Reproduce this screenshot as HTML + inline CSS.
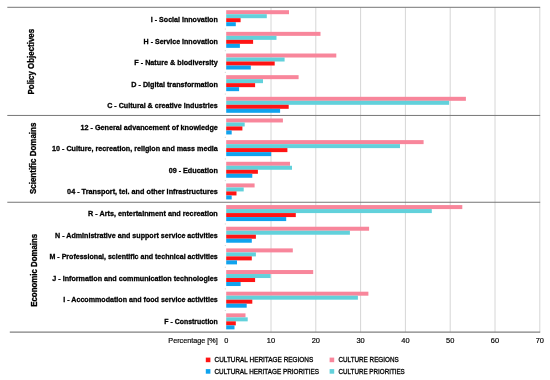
<!DOCTYPE html>
<html lang="en"><head><meta charset="utf-8"><title>Chart</title>
<style>html,body{margin:0;padding:0;background:#fff}svg{display:block}text{font-family:"Liberation Sans",sans-serif;fill:#000;stroke:#000;stroke-width:.3px}.t{stroke-width:.18px}.b{font-weight:700;stroke:#000;stroke-width:.3px}</style></head>
<body>
<svg width="550" height="380" viewBox="0 0 550 380">
<rect width="550" height="380" fill="#fff"/>
<g stroke="#d6d6d6" stroke-width="1">
<line x1="271.0" y1="7.4" x2="271.0" y2="332.2"/>
<line x1="315.8" y1="7.4" x2="315.8" y2="332.2"/>
<line x1="360.6" y1="7.4" x2="360.6" y2="332.2"/>
<line x1="405.4" y1="7.4" x2="405.4" y2="332.2"/>
<line x1="450.2" y1="7.4" x2="450.2" y2="332.2"/>
<line x1="495.0" y1="7.4" x2="495.0" y2="332.2"/>
<line x1="539.8" y1="7.4" x2="539.8" y2="332.2"/>
</g>
<g fill="#cfcfcf">
<rect x="224.8" y="28.55" width="1" height="1"/>
<rect x="224.8" y="50.21" width="1" height="1"/>
<rect x="224.8" y="71.86" width="1" height="1"/>
<rect x="224.8" y="93.51" width="1" height="1"/>
<rect x="224.8" y="136.82" width="1" height="1"/>
<rect x="224.8" y="158.47" width="1" height="1"/>
<rect x="224.8" y="180.13" width="1" height="1"/>
<rect x="224.8" y="223.43" width="1" height="1"/>
<rect x="224.8" y="245.09" width="1" height="1"/>
<rect x="224.8" y="266.74" width="1" height="1"/>
<rect x="224.8" y="288.39" width="1" height="1"/>
<rect x="224.8" y="310.05" width="1" height="1"/>
</g>
<rect x="226.2" y="10.20" width="62.8" height="4.0" fill="#f8869b"/>
<rect x="226.2" y="14.20" width="40.6" height="4.0" fill="#62d1db"/>
<rect x="226.2" y="18.20" width="14.4" height="4.0" fill="#ff1414"/>
<rect x="226.2" y="22.20" width="9.6" height="4.0" fill="#0fa3ee"/>
<rect x="226.2" y="31.85" width="94.3" height="4.0" fill="#f8869b"/>
<rect x="226.2" y="35.85" width="50.3" height="4.0" fill="#62d1db"/>
<rect x="226.2" y="39.85" width="26.9" height="4.0" fill="#ff1414"/>
<rect x="226.2" y="43.85" width="13.7" height="4.0" fill="#0fa3ee"/>
<rect x="226.2" y="53.51" width="110.1" height="4.0" fill="#f8869b"/>
<rect x="226.2" y="57.51" width="58.4" height="4.0" fill="#62d1db"/>
<rect x="226.2" y="61.51" width="48.5" height="4.0" fill="#ff1414"/>
<rect x="226.2" y="65.51" width="24.6" height="4.0" fill="#0fa3ee"/>
<rect x="226.2" y="75.16" width="72.4" height="4.0" fill="#f8869b"/>
<rect x="226.2" y="79.16" width="36.8" height="4.0" fill="#62d1db"/>
<rect x="226.2" y="83.16" width="28.9" height="4.0" fill="#ff1414"/>
<rect x="226.2" y="87.16" width="12.9" height="4.0" fill="#0fa3ee"/>
<rect x="226.2" y="96.81" width="239.7" height="4.0" fill="#f8869b"/>
<rect x="226.2" y="100.81" width="222.9" height="4.0" fill="#62d1db"/>
<rect x="226.2" y="104.81" width="62.5" height="4.0" fill="#ff1414"/>
<rect x="226.2" y="108.81" width="53.9" height="4.0" fill="#0fa3ee"/>
<rect x="226.2" y="118.47" width="56.7" height="4.0" fill="#f8869b"/>
<rect x="226.2" y="122.47" width="18.5" height="4.0" fill="#62d1db"/>
<rect x="226.2" y="126.47" width="16.2" height="4.0" fill="#ff1414"/>
<rect x="226.2" y="130.47" width="5.5" height="4.0" fill="#0fa3ee"/>
<rect x="226.2" y="140.12" width="197.4" height="4.0" fill="#f8869b"/>
<rect x="226.2" y="144.12" width="173.8" height="4.0" fill="#62d1db"/>
<rect x="226.2" y="148.12" width="61.2" height="4.0" fill="#ff1414"/>
<rect x="226.2" y="152.12" width="45.0" height="4.0" fill="#0fa3ee"/>
<rect x="226.2" y="161.77" width="63.8" height="4.0" fill="#f8869b"/>
<rect x="226.2" y="165.77" width="65.8" height="4.0" fill="#62d1db"/>
<rect x="226.2" y="169.77" width="31.7" height="4.0" fill="#ff1414"/>
<rect x="226.2" y="173.77" width="26.1" height="4.0" fill="#0fa3ee"/>
<rect x="226.2" y="183.43" width="28.4" height="4.0" fill="#f8869b"/>
<rect x="226.2" y="187.43" width="17.5" height="4.0" fill="#62d1db"/>
<rect x="226.2" y="191.43" width="10.3" height="4.0" fill="#ff1414"/>
<rect x="226.2" y="195.43" width="5.5" height="4.0" fill="#0fa3ee"/>
<rect x="226.2" y="205.08" width="236.1" height="4.0" fill="#f8869b"/>
<rect x="226.2" y="209.08" width="205.6" height="4.0" fill="#62d1db"/>
<rect x="226.2" y="213.08" width="69.6" height="4.0" fill="#ff1414"/>
<rect x="226.2" y="217.08" width="60.0" height="4.0" fill="#0fa3ee"/>
<rect x="226.2" y="226.73" width="142.9" height="4.0" fill="#f8869b"/>
<rect x="226.2" y="230.73" width="123.7" height="4.0" fill="#62d1db"/>
<rect x="226.2" y="234.73" width="29.7" height="4.0" fill="#ff1414"/>
<rect x="226.2" y="238.73" width="25.6" height="4.0" fill="#0fa3ee"/>
<rect x="226.2" y="248.39" width="66.6" height="4.0" fill="#f8869b"/>
<rect x="226.2" y="252.39" width="29.7" height="4.0" fill="#62d1db"/>
<rect x="226.2" y="256.39" width="25.6" height="4.0" fill="#ff1414"/>
<rect x="226.2" y="260.39" width="10.8" height="4.0" fill="#0fa3ee"/>
<rect x="226.2" y="270.04" width="87.0" height="4.0" fill="#f8869b"/>
<rect x="226.2" y="274.04" width="44.4" height="4.0" fill="#62d1db"/>
<rect x="226.2" y="278.04" width="28.9" height="4.0" fill="#ff1414"/>
<rect x="226.2" y="282.04" width="14.4" height="4.0" fill="#0fa3ee"/>
<rect x="226.2" y="291.69" width="142.2" height="4.0" fill="#f8869b"/>
<rect x="226.2" y="295.69" width="131.7" height="4.0" fill="#62d1db"/>
<rect x="226.2" y="299.69" width="26.1" height="4.0" fill="#ff1414"/>
<rect x="226.2" y="303.69" width="20.5" height="4.0" fill="#0fa3ee"/>
<rect x="226.2" y="313.35" width="19.3" height="4.0" fill="#f8869b"/>
<rect x="226.2" y="317.35" width="21.5" height="4.0" fill="#62d1db"/>
<rect x="226.2" y="321.35" width="9.6" height="4.0" fill="#ff1414"/>
<rect x="226.2" y="325.35" width="8.3" height="4.0" fill="#0fa3ee"/>
<g stroke="#767676" stroke-width="1">
<line x1="7.3" y1="7.3" x2="540.2" y2="7.3"/>
<line x1="7.3" y1="115.45" x2="540.2" y2="115.45"/>
<line x1="7.3" y1="202.25" x2="540.2" y2="202.25"/>
</g>
<line x1="9.8" y1="332.05" x2="540.2" y2="332.05" stroke="#808080" stroke-width="1.15"/>
<g class="b" font-size="7.7" text-anchor="end">
<text x="217.8" y="21.9" textLength="67.0" lengthAdjust="spacingAndGlyphs">I - Social innovation</text>
<text x="217.8" y="43.5" textLength="74.2" lengthAdjust="spacingAndGlyphs">H - Service innovation</text>
<text x="217.8" y="65.0" textLength="83.5" lengthAdjust="spacingAndGlyphs">F - Nature &amp; biodiversity</text>
<text x="217.8" y="86.6" textLength="86.5" lengthAdjust="spacingAndGlyphs">D - Digital transformation</text>
<text x="217.8" y="108.1" textLength="110.6" lengthAdjust="spacingAndGlyphs">C - Cultural &amp; creative industries</text>
<text x="217.8" y="129.7" textLength="137.3" lengthAdjust="spacingAndGlyphs">12 - General advancement of knowledge</text>
<text x="217.8" y="151.2" textLength="165.7" lengthAdjust="spacingAndGlyphs">10 - Culture, recreation, religion and mass media</text>
<text x="217.8" y="172.8" textLength="49.1" lengthAdjust="spacingAndGlyphs">09 - Education</text>
<text x="217.8" y="194.4" textLength="150.7" lengthAdjust="spacingAndGlyphs">04 - Transport, tel. and other infrastructures</text>
<text x="217.8" y="215.9" textLength="129.7" lengthAdjust="spacingAndGlyphs">R - Arts, entertainment and recreation</text>
<text x="217.8" y="237.5" textLength="162.7" lengthAdjust="spacingAndGlyphs">N - Administrative and support service activities</text>
<text x="217.8" y="259.0" textLength="168.3" lengthAdjust="spacingAndGlyphs">M - Professional, scientific and technical activities</text>
<text x="217.8" y="280.6" textLength="165.5" lengthAdjust="spacingAndGlyphs">J - Information and communication technologies</text>
<text x="217.8" y="302.1" textLength="154.5" lengthAdjust="spacingAndGlyphs">I - Accommodation and food service activities</text>
<text x="217.8" y="323.7" textLength="53.5" lengthAdjust="spacingAndGlyphs">F - Construction</text>
</g>
<text class="b" font-size="8.7" transform="translate(33.7 94.5) rotate(-90)" textLength="65.7" lengthAdjust="spacingAndGlyphs">Policy Objectives</text>
<text class="b" font-size="8.7" transform="translate(36.0 194.1) rotate(-90)" textLength="71.5" lengthAdjust="spacingAndGlyphs">Scientific Domains</text>
<text class="b" font-size="8.7" transform="translate(36.8 306.8) rotate(-90)" textLength="73.0" lengthAdjust="spacingAndGlyphs">Economic Domains</text>
<text class="t" font-size="7.6" text-anchor="end" x="217.8" y="343.1" textLength="49.5" lengthAdjust="spacingAndGlyphs">Percentage [%]</text>
<g font-size="7.6" text-anchor="middle">
<text class="t" x="226.2" y="343.1" textLength="4.1" lengthAdjust="spacingAndGlyphs">0</text>
<text class="t" x="271.0" y="343.1" textLength="8.3" lengthAdjust="spacingAndGlyphs">10</text>
<text class="t" x="315.8" y="343.1" textLength="8.3" lengthAdjust="spacingAndGlyphs">20</text>
<text class="t" x="360.6" y="343.1" textLength="8.3" lengthAdjust="spacingAndGlyphs">30</text>
<text class="t" x="405.4" y="343.1" textLength="8.3" lengthAdjust="spacingAndGlyphs">40</text>
<text class="t" x="450.2" y="343.1" textLength="8.3" lengthAdjust="spacingAndGlyphs">50</text>
<text class="t" x="495.0" y="343.1" textLength="8.3" lengthAdjust="spacingAndGlyphs">60</text>
<text class="t" x="539.8" y="343.1" textLength="8.3" lengthAdjust="spacingAndGlyphs">70</text>
</g>
<g font-size="7.1">
<rect x="205.8" y="357.6" width="4.6" height="4.6" fill="#ff1414"/>
<text x="214.5" y="361.8" textLength="98.8" lengthAdjust="spacingAndGlyphs">CULTURAL HERITAGE REGIONS</text>
<rect x="205.8" y="369.1" width="4.6" height="4.6" fill="#0fa3ee"/>
<text x="214.5" y="373.5" textLength="104.5" lengthAdjust="spacingAndGlyphs">CULTURAL HERITAGE PRIORITIES</text>
<rect x="329.6" y="357.6" width="4.6" height="4.6" fill="#f8869b"/>
<text x="338.5" y="361.8" textLength="60.2" lengthAdjust="spacingAndGlyphs">CULTURE REGIONS</text>
<rect x="329.6" y="369.1" width="4.6" height="4.6" fill="#62d1db"/>
<text x="338.5" y="373.5" textLength="66.3" lengthAdjust="spacingAndGlyphs">CULTURE PRIORITIES</text>
</g>
</svg>
</body></html>
